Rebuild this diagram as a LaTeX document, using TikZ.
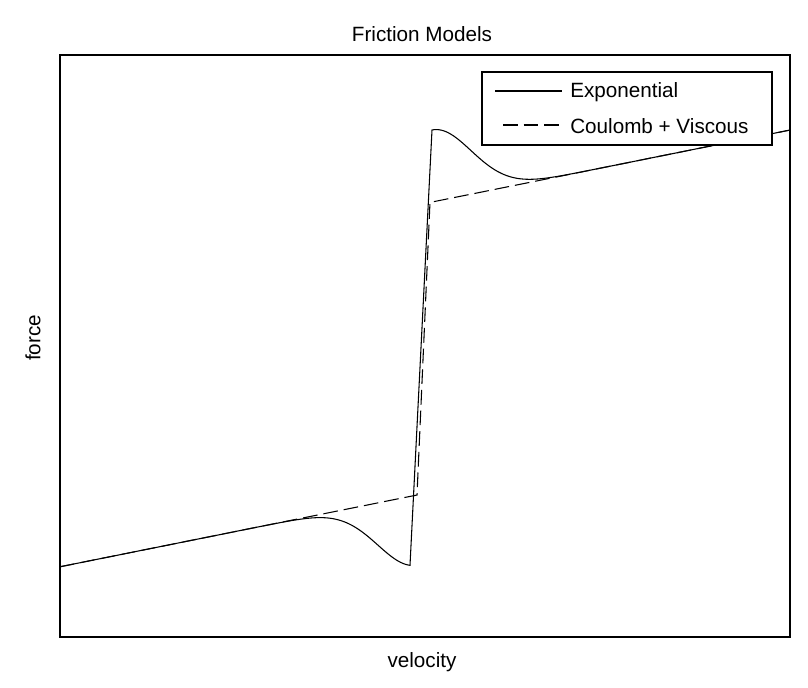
\documentclass[tikz,border=0pt]{standalone}
\usepackage{fontspec}
\setmainfont{Liberation Sans}
\begin{document}
\begin{tikzpicture}[x=0.75pt,y=-0.75pt,font=\fontsize{15.5pt}{18pt}\selectfont,
  curve/.style={line width=0.8pt,black},
  lbl/.style={inner sep=0pt}]
\useasboundingbox[fill=white] (0,0) rectangle (808,687);
\draw[line width=0.8pt] (60,55) rectangle (790,637);
% dashed: Coulomb + Viscous
\draw[curve,dash pattern=on 11pt off 4.5pt] plot[domain=60:417,samples=40] (\x,{495+(417-\x)*0.201}) -- (430,202) -- plot[domain=432:790,samples=40] (\x,{202-(\x-432)*0.201});
% solid: Exponential
\draw[curve] plot[domain=60:410,samples=150] (\x,{495+(417-\x)*0.201+70*exp(-((417-\x)/55)^2)}) -- plot[domain=432:790,samples=150] (\x,{202-(\x-432)*0.201-72*exp(-((\x-432)/55)^2)});
% legend
\draw[line width=0.8pt,fill=white] (482,72) rectangle (772,145);
\coordinate (l1a) at (495,91); \coordinate (l1b) at (562,91);
\coordinate (l2a) at (503,125); \coordinate (l2b) at (562,125);
\draw[curve] (l1a) -- (l1b);
\draw[curve,dash pattern=on 11pt off 4.5pt] (l2a) -- (l2b);
\node[lbl,anchor=west] (e) at (570,92) {Exponential};
\node[lbl,anchor=west] (c) at (570,126) {Coulomb + Viscous};
% labels
\node[lbl] (t) at (422,34) {Friction Models};
\node[lbl] (v) at (422,662) {velocity};
\node[lbl,rotate=90] (f) at (33,338) {force};
\end{tikzpicture}
\end{document}
